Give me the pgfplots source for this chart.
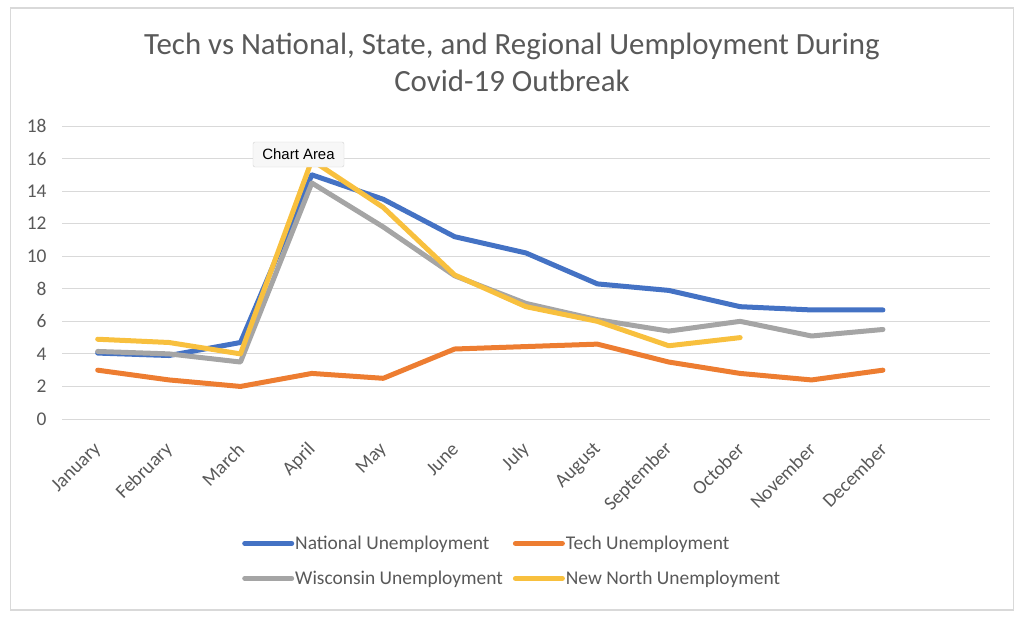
\documentclass[border=0pt]{standalone}
\usepackage{pgfplots}
\pgfplotsset{compat=1.18}
\usepackage{pgfplotstable}
\usepackage{fontspec}
\setmainfont{Carlito}
\newfontfamily\uifont{Liberation Sans}

\definecolor{natblue}{HTML}{4472C4}
\definecolor{techorange}{HTML}{ED7D31}
\definecolor{wigray}{HTML}{A5A5A5}
\definecolor{nnyellow}{HTML}{F8C03E}
\definecolor{labelgray}{HTML}{595959}
\definecolor{gridgray}{HTML}{D9D9D9}

% Monthly unemployment rates (%), 2020
\pgfplotstableread{
m  nat   tech  wi
0  4.05  3.0   4.15
1  3.9   2.4   4.0
2  4.7   2.0   3.5
3  15.0  2.8   14.5
4  13.5  2.5   11.8
5  11.2  4.3   8.8
6  10.2  4.45  7.1
7  8.3   4.6   6.1
8  7.9   3.5   5.4
9  6.9   2.8   6.0
10 6.7   2.4   5.1
11 6.7   3.0   5.5
}\ratetable

% New North region, reported through October
\pgfplotstableread{
m  nn
0  4.9
1  4.7
2  4.0
3  15.9
4  13.0
5  8.85
6  6.9
7  6.0
8  4.5
9  5.0
}\newnorthtable

\begin{document}
\begin{tikzpicture}
\path[use as bounding box] (0bp,0bp) rectangle (1024bp,-619bp);
\draw[gridgray, line width=1.2bp] (10.5bp,-8bp) rectangle (1013.5bp,-610bp);
\node[text=labelgray, font=\fontsize{31}{37}\selectfont, align=center] at (512bp,-62bp)
  {Tech vs National, State, and Regional Uemployment During\\Covid-19 Outbreak};
\begin{axis}[
  at={(62bp,-419bp)}, anchor=south west,
  width=928bp, height=293bp, scale only axis,
  xmin=-0.5, xmax=12.5, ymin=0, ymax=18,
  xtick={0,...,11},
  xticklabels={January,February,March,April,May,June,July,August,September,October,November,December},
  ytick={0,2,...,18},
  ymajorgrids, grid style={gridgray, line width=1bp},
  axis line style={draw=none},
  major tick length=0pt,
  /pgf/number format/assume math mode=true,
  ticklabel style={text=labelgray, font=\fontsize{19.5}{22}\selectfont},
  yticklabel style={xshift=-12bp},
  xticklabel style={xshift=3bp, yshift=-25bp, rotate=45, anchor=east},
  legend columns=2,
  legend cell align=left,
  legend style={at={(0.194,-0.395)}, anchor=north west, draw=none, fill=none,
    inner sep=0pt, font=\fontsize{19.5}{22}\selectfont, text=labelgray,
    row sep=18bp,
    nodes={inner sep=1bp},
    /tikz/every even column/.append style={column sep=9bp}},
  legend image code/.code={\draw[#1] (0bp,0bp) -- (47bp,0bp);},
  every axis plot/.append style={line width=5bp, line cap=round, line join=round},
]
\addplot[natblue] table[x=m, y=nat] {\ratetable};
\addlegendentry{National Unemployment}
\addplot[techorange] table[x=m, y=tech] {\ratetable};
\addlegendentry{Tech Unemployment}
\addplot[wigray] table[x=m, y=wi] {\ratetable};
\addlegendentry{Wisconsin Unemployment}
\addplot[nnyellow] table[x=m, y=nn] {\newnorthtable};
\addlegendentry{New North Unemployment}
\end{axis}
% hover tooltip
\node[fill=gray!6, draw=gray!35, rounded corners=2bp, minimum width=91bp, minimum height=25bp,
  inner sep=0pt, font=\uifont\fontsize{15}{18}\selectfont, text=black] at (298.5bp,-154.5bp) {Chart Area};
\end{tikzpicture}
\end{document}
